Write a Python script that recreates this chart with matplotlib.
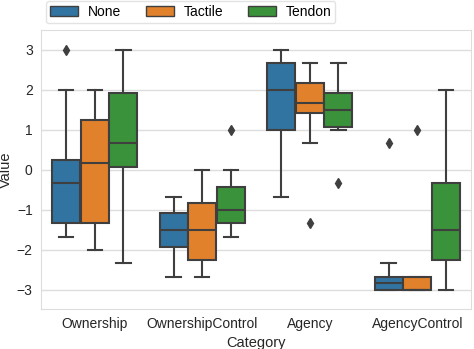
import matplotlib
matplotlib.use("Agg")
import matplotlib.pyplot as plt
from matplotlib.patches import Patch
import numpy as np

categories = ["Ownership", "OwnershipControl", "Agency", "AgencyControl"]
conditions = ["None", "Tactile", "Tendon"]
colors = ["#3274a1", "#e1812c", "#3a923a"]

# stats per condition for each category
whislo = {
    "None":    [-1.67, -2.67, -0.67, -3.0],
    "Tactile": [-2.0, -2.67, 0.67, -3.0],
    "Tendon":  [-2.33, -1.67, 1.0, -3.0],
}
q1 = {
    "None":    [-1.33, -1.92, 1.0, -3.0],
    "Tactile": [-1.33, -2.25, 1.42, -3.0],
    "Tendon":  [0.08, -1.33, 1.07, -2.25],
}
med = {
    "None":    [-0.33, -1.5, 2.0, -2.83],
    "Tactile": [0.17, -1.5, 1.67, -3.0],
    "Tendon":  [0.67, -1.0, 1.5, -1.5],
}
q3 = {
    "None":    [0.25, -1.08, 2.67, -2.67],
    "Tactile": [1.25, -0.83, 2.17, -2.67],
    "Tendon":  [1.92, -0.42, 1.92, -0.33],
}
whishi = {
    "None":    [2.0, -0.67, 3.0, -2.33],
    "Tactile": [2.0, 0.0, 2.67, -2.67],
    "Tendon":  [3.0, 0.0, 2.67, 2.0],
}
fliers = {
    "None":    [[3.0], [], [], [0.67]],
    "Tactile": [[], [], [-1.33], [1.0]],
    "Tendon":  [[], [1.0], [-0.33], []],
}

plt.rcParams['font.family'] = ['Liberation Sans', 'DejaVu Sans']
fig = plt.figure(figsize=(4.74, 3.49), dpi=100)
ax = fig.add_axes([41/474, 1 - 309/349, 430/474, 279/349])

line_c = "#3f3f3f"
width = 0.8 / 3
for j, cond in enumerate(conditions):
    stats = []
    for i in range(len(categories)):
        stats.append(dict(whislo=whislo[cond][i], q1=q1[cond][i], med=med[cond][i],
                          q3=q3[cond][i], whishi=whishi[cond][i], fliers=fliers[cond][i]))
    pos = [i - 0.8 / 2 + width * (j + 0.5) for i in range(len(categories))]
    ax.bxp(stats, positions=pos, widths=width * 0.98, patch_artist=True, showfliers=True,
           boxprops=dict(facecolor=colors[j], edgecolor=line_c, linewidth=1.5),
           medianprops=dict(color=line_c, linewidth=1.5),
           whiskerprops=dict(color=line_c, linewidth=1.5),
           capprops=dict(color=line_c, linewidth=1.5),
           capwidths=width * 0.5,
           flierprops=dict(marker='d', markerfacecolor=line_c, markeredgecolor=line_c,
                           markersize=5.5, linestyle='none'))

ax.set_xlim(-0.5, 3.5)
ax.set_ylim(-3.48, 3.5)
ax.set_xticks(range(len(categories)))
ax.set_xticklabels(categories)
ax.set_yticks([-3, -2, -1, 0, 1, 2, 3])
ax.set_yticklabels(["\u22123", "\u22122", "\u22121", "0", "1", "2", "3"])
ax.yaxis.grid(True, color="#dddddd", linewidth=1)
ax.set_axisbelow(True)
for s in ax.spines.values():
    s.set_color("#dddddd")
ax.tick_params(length=0, labelsize=10, colors="#262626", pad=6)
ax.set_xlabel("Category", fontsize=10.5, color="#262626", labelpad=3)
ax.set_ylabel("Value", fontsize=10.5, color="#262626", labelpad=3)

handles = [Patch(facecolor=c, edgecolor=line_c, linewidth=1) for c in colors]
fig.legend(handles, conditions, loc="upper left", bbox_to_anchor=(46/474, 1 - 1/349),
           ncol=3, fontsize=10, frameon=True, edgecolor="#dddddd", fancybox=True,
           handlelength=2.0, handleheight=0.7, columnspacing=1.8, handletextpad=0.7,
           borderpad=0.3, borderaxespad=0)

fig.savefig("out.png", dpi=100)
